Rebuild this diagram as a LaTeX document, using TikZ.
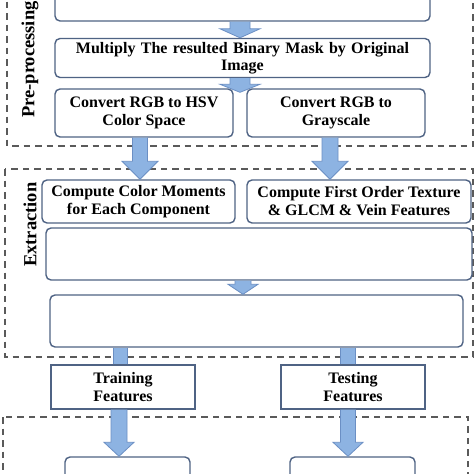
\documentclass[tikz,border=0pt]{standalone}
\usepackage{fontspec}
\setmainfont{Liberation Serif}
\usetikzlibrary{calc}
\definecolor{boxc}{HTML}{4F6384}
\definecolor{arrf}{HTML}{8DB3E2}
\definecolor{arrd}{HTML}{6B8FC4}
\definecolor{frc}{HTML}{5A5A5A}
\tikzset{
  rbox/.style={draw=boxc, line width=1.4pt, rounded corners=5pt, fill=white, align=center,
    font=\fontsize{16}{18}\selectfont\bfseries, inner sep=0pt},
  sbox/.style={draw=boxc, line width=1.2pt, fill=white, align=center,
    font=\fontsize{16}{18}\selectfont\bfseries, inner sep=0pt},
  frame/.style={draw=frc, line width=1.4pt, dash pattern=on 6.5pt off 5pt},
  barrow/.style={fill=arrf, draw=arrd, line width=0.8pt, line join=miter},
  lbl/.style={rotate=90, font=\fontsize{18.5}{20}\selectfont\bfseries, anchor=west, inner sep=0pt}
}
% block arrow: #1 x, #2 from, #3 to, #4 shaft half width, #5 head half width, #6 head length, #7 overshoot
\newcommand\barr[7]{\draw[barrow] let \p1=(#2), \p2=(#3) in
  (#1pt-#4pt,\y1) -- (#1pt-#4pt,\y2-#7pt+#6pt) -- (#1pt-#5pt,\y2-#7pt+#6pt) -- (#1pt,\y2-#7pt)
  -- (#1pt+#5pt,\y2-#7pt+#6pt) -- (#1pt+#4pt,\y2-#7pt+#6pt) -- (#1pt+#4pt,\y1);}
% plain shaft: #1 x, #2 from, #3 to, #4 half width
\newcommand\bshaft[4]{\fill[arrf] let \p1=(#2), \p2=(#3) in (#1pt-#4pt,\y1) rectangle (#1pt+#4pt,\y2);
  \draw[barrow] let \p1=(#2), \p2=(#3) in
  (#1pt-#4pt,\y1) -- (#1pt-#4pt,\y2) (#1pt+#4pt,\y2) -- (#1pt+#4pt,\y1);}
\begin{document}
\begin{tikzpicture}[x=1pt,y=-1pt]
\useasboundingbox (0,0) rectangle (474,474);
\clip (0,0) rectangle (474,474);
\fill[white] (0,0) rectangle (474,474);
% frames
\draw[frame] (7,-10) rectangle (473,146);
\draw[frame] (5,169) rectangle (473,357);
\draw[frame] (3,417) rectangle (468,520);
% labels
\node[lbl] (lpre) at (30,118) {Pre-processing};
\node[lbl] (lext) at (30,267) {Extraction};
% boxes
\node[rbox, minimum width=375pt, minimum height=41pt] (top) at (242.5,0.5) {};
\node[rbox, minimum width=375pt, minimum height=39pt, text width=370pt] (mult) at (242.5,58)
  {Multiply The resulted Binary Mask by Original\\[-1pt]Image};
\node[rbox, minimum width=178pt, minimum height=48pt] (hsv) at (144,113) {Convert RGB to HSV\\Color Space};
\node[rbox, minimum width=178pt, minimum height=48pt] (gray) at (336,113) {Convert RGB to\\Grayscale};
\node[rbox, minimum width=193pt, minimum height=43pt] (cm) at (138.5,201.5) {Compute Color Moments\\for Each Component};
\node[rbox, minimum width=224pt, minimum height=43pt] (fo) at (359,201.5) {Compute First Order Texture\\\& GLCM \& Vein Features};
\node[rbox, minimum width=426pt, minimum height=52pt] (fa1) at (259,254) {};
\node[rbox, minimum width=413pt, minimum height=52pt] (fa2) at (256.5,321) {};
\node[sbox, minimum width=144pt, minimum height=44pt] (train) at (123,387) {Training\\Features};
\node[sbox, minimum width=144pt, minimum height=44pt] (test) at (353,387) {Testing\\Features};
\node[rbox, minimum width=125pt, minimum height=43pt] (b1) at (127.5,478.5) {};
\node[rbox, minimum width=125pt, minimum height=43pt] (b2) at (352.5,478.5) {};
% arrows
\barr{240}{top.south}{mult.north}{10}{20}{9}{0}
\barr{240}{mult.south}{hsv.north}{10}{20}{8}{4}
\barr{140}{hsv.south}{cm.north}{7.5}{18}{18}{0}
\barr{330}{gray.south}{fo.north}{8}{18}{18}{0}
\barr{243}{fa1.south}{fa2.north}{8}{15}{10}{0}
\bshaft{120}{fa2.south}{train.north}{7}
\bshaft{348}{fa2.south}{test.north}{7.5}
\barr{119}{train.south}{b1.north}{8}{15}{14}{0}
\barr{348}{test.south}{b2.north}{7.5}{15}{14}{0}
\end{tikzpicture}
\end{document}
